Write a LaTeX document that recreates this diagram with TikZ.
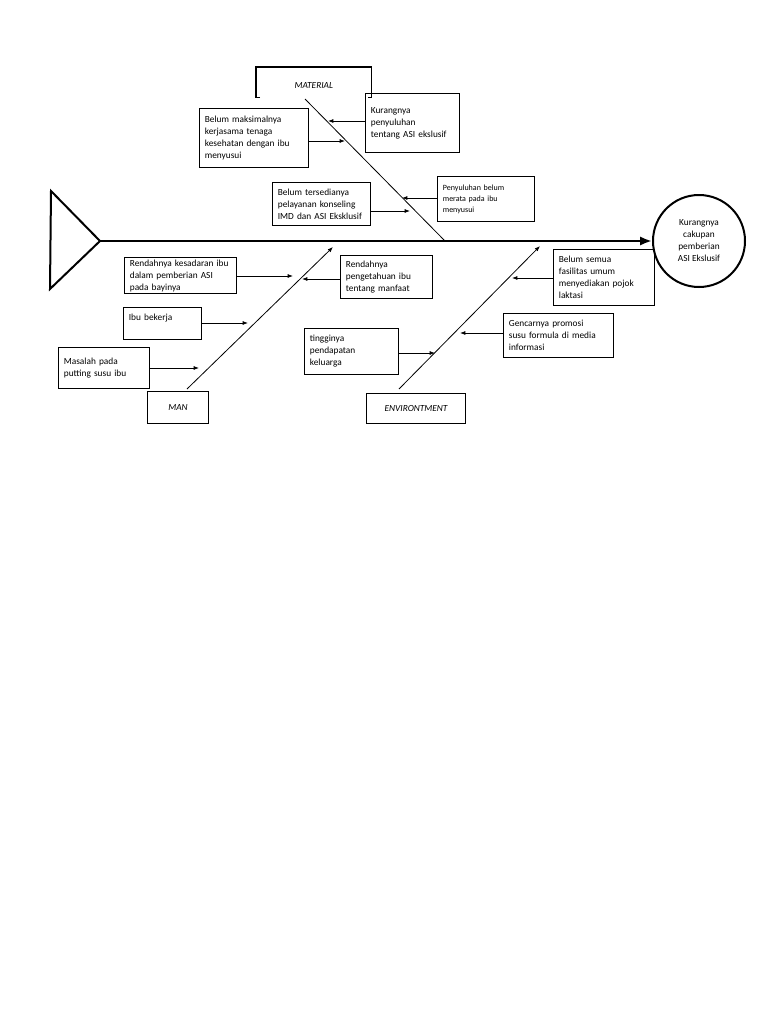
\documentclass[tikz,border=0pt]{standalone}
\usepackage{fontspec}
\setmainfont{Carlito}
\usetikzlibrary{arrows.meta}
\tikzset{
  cause/.style={draw, line width=0.8pt, anchor=north west, align=left, inner xsep=4pt, inner ysep=2.5pt, font=\fontsize{7}{9}\selectfont},
  group/.style={draw, line width=0.8pt, anchor=north west, inner sep=0pt, font=\fontsize{7}{9}\selectfont\itshape},
  bone/.style={line width=0.6pt},
  arr/.style={line width=0.6pt, -{Latex[length=4pt,width=3pt]}}
}
\begin{document}
\begin{tikzpicture}[x=0.75pt,y=0.75pt,yscale=-1,xscale=1]
\useasboundingbox (0,0) rectangle (768,1024);

%Head (effect)
\node (effect) [draw, circle, line width=1.5pt, minimum size=69pt, inner sep=0pt, align=center, font=\fontsize{7}{9}\selectfont] at (699,241) {Kurangnya\\cakupan\\pemberian\\ASI Ekslusif};
%Tail
\coordinate (tail) at (100,241);
\draw [line width=1.5pt, line join=miter] (51,191) -- (tail) -- (50,289) -- cycle ;
%Spine
\draw [line width=2.2pt, -{Latex[length=9pt,width=7pt]}] (tail) -- (effect.west) ;

%Group boxes
\node (material) [anchor=north west, minimum width=86.25pt, minimum height=22.5pt, inner sep=0pt, text height=9pt, text depth=0pt, font=\fontsize{7}{9}\selectfont\itshape] at (256,67) {MATERIAL};
\draw [line width=0.8pt] ([xshift=3pt]material.south west) -- (material.south west) -- (material.north west) -- (material.north east) -- (material.south east) -- ([xshift=-3pt]material.south east) ;
\node (man) [group, minimum width=45.75pt, minimum height=24pt] at (147,391) {MAN};
\node (env) [group, minimum width=74.25pt, minimum height=22.5pt] at (366,393) {ENVIRONTMENT};

%Bones
\coordinate (matTop) at (305,99);
\coordinate (matEnd) at (445,241);
\coordinate (manBot) at (187,389);
\coordinate (manEnd) at (333,247);
\coordinate (envBot) at (399,389);
\coordinate (envEnd) at (540,246);
\draw [bone] (matTop) -- (matEnd) ;
\draw [arr] (manBot) -- (manEnd) ;
\draw [arr] (envBot) -- (envEnd) ;

%Causes - MATERIAL
\node (kerjasama) [cause, text width=73.75pt, minimum height=44pt] at (199,108) {Belum maksimalnya\\kerjasama tenaga\\kesehatan dengan ibu\\menyusui};
\node (penyuluhan) [cause, text width=62.5pt, minimum height=44pt] at (365,93) {Kurangnya\\penyuluhan\\tentang ASI ekslusif};
\node (konseling) [cause, text width=65.5pt, minimum height=32pt] at (272,182) {Belum tersedianya\\pelayanan konseling\\IMD dan ASI Eksklusif};
\node (merata) [cause, text width=65pt, minimum height=34pt, font=\fontsize{6}{8.5}\selectfont] at (437,176) {Penyuluhan belum\\merata pada ibu\\menyusui};

%Causes - MAN
\node (kesadaran) [cause, text width=76pt, minimum height=27pt, inner ysep=1.5pt] at (124,257) {Rendahnya kesadaran ibu\\dalam pemberian ASI\\pada bayinya};
\node (pengetahuan) [cause, text width=61pt, minimum height=32pt] at (340,255) {Rendahnya\\pengetahuan ibu\\tentang manfaat};
\node (bekerja) [cause, text width=50.5pt, minimum height=24pt] at (123,307) {Ibu bekerja\\\mbox{}};
\node (putting) [cause, text width=60pt, minimum height=31pt] at (58,347) {Masalah pada\\putting susu ibu};

%Causes - ENVIRONTMENT
\node (pendapatan) [cause, text width=62.5pt, minimum height=34.5pt] at (304,328) {tingginya\\pendapatan\\keluarga};
\node (promosi) [cause, text width=74.5pt, minimum height=33pt] at (503,313) {Gencarnya promosi\\susu formula di media\\informasi};
\node (pojok) [cause, text width=68pt, minimum height=42pt] at (553,249) {Belum semua\\fasilitas umum\\menyediakan pojok\\laktasi};

%Arrow ends on the bones
\coordinate (t1) at (345,141);
\coordinate (t2) at (328,121);
\coordinate (t3) at (410,211);
\coordinate (t4) at (402,198);
\coordinate (t5) at (293,276);
\coordinate (t6) at (302,279);
\coordinate (t7) at (248,323);
\coordinate (t8) at (199,368);
\coordinate (t9) at (435,353);
\coordinate (t10) at (460,333);
\coordinate (t11) at (512,278);

%Cause arrows
\draw [arr] (t1 -| kerjasama.east) -- (t1) ;
\draw [arr] (t2 -| penyuluhan.west) -- (t2) ;
\draw [arr] (t3 -| konseling.east) -- (t3) ;
\draw [arr] (t4 -| merata.west) -- (t4) ;
\draw [arr] (t5 -| kesadaran.east) -- (t5) ;
\draw [arr] (t6 -| pengetahuan.west) -- (t6) ;
\draw [arr] (t7 -| bekerja.east) -- (t7) ;
\draw [arr] (t8 -| putting.east) -- (t8) ;
\draw [arr] (t9 -| pendapatan.east) -- (t9) ;
\draw [arr] (t10 -| promosi.west) -- (t10) ;
\draw [arr] (t11 -| pojok.west) -- (t11) ;

\end{tikzpicture}
\end{document}
